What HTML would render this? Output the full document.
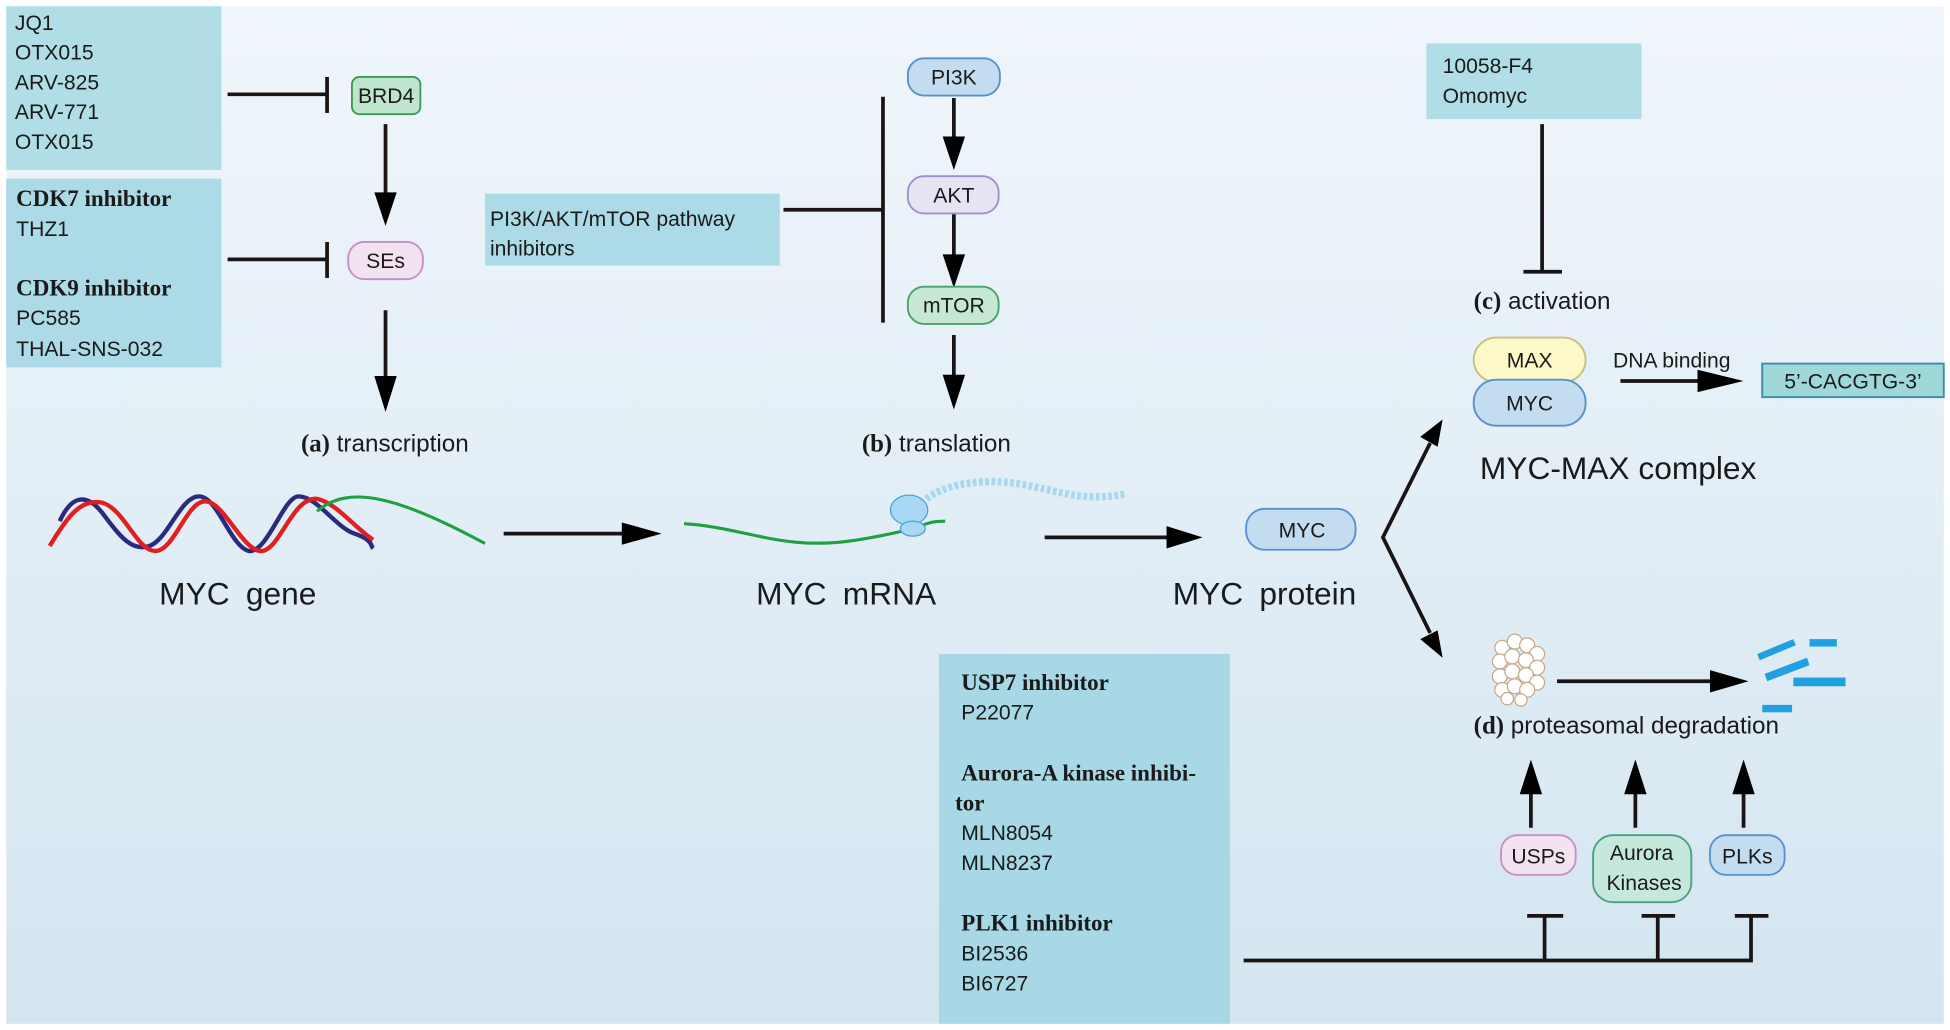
<!DOCTYPE html>
<html><head><meta charset="utf-8"><style>
html,body{margin:0;padding:0;background:#fff;}
svg{display:block}
text{font-family:"Liberation Sans Narrow","Liberation Sans",sans-serif;fill:#1a1a1a}
.s{font-family:"Liberation Serif",serif;font-weight:bold;font-size:18.5px}
</style></head><body>
<svg width="1950" height="1030" viewBox="0 0 1568 830" preserveAspectRatio="none" xmlns="http://www.w3.org/2000/svg">
<defs>
<linearGradient id="bg" x1="0" y1="0" x2="0" y2="1">
<stop offset="0" stop-color="#f0f6fb"/><stop offset="1" stop-color="#d4e5f0"/></linearGradient>
</defs>
<rect x="0" y="0" width="1568" height="830" fill="#fff"/>
<rect x="5" y="5" width="1558" height="820" fill="url(#bg)"/>
<g stroke="#1a1414" stroke-width="3" fill="none">
<line x1="183" y1="76" x2="263" y2="76"/><line x1="263" y1="62" x2="263" y2="91"/>
<line x1="183" y1="209" x2="263" y2="209"/><line x1="263" y1="195" x2="263" y2="224"/>
<line x1="310" y1="100" x2="310" y2="160"/><line x1="310" y1="250" x2="310" y2="310"/>
<line x1="630" y1="169" x2="710" y2="169"/><line x1="710" y1="78" x2="710" y2="260"/>
<line x1="767" y1="79" x2="767" y2="115"/><line x1="767" y1="172" x2="767" y2="210"/><line x1="767" y1="270" x2="767" y2="308"/>
<line x1="405" y1="430" x2="505" y2="430"/><line x1="840" y1="433" x2="945" y2="433"/>
<line x1="1240" y1="100" x2="1240" y2="218"/><line x1="1225" y1="219" x2="1256" y2="219"/>
<line x1="1303" y1="307" x2="1375" y2="307"/>
<polyline points="1150,357 1112,433 1150,510"/>
<line x1="1252" y1="549" x2="1380" y2="549"/>
<line x1="1231" y1="667" x2="1231" y2="635"/><line x1="1315" y1="667" x2="1315" y2="635"/><line x1="1402" y1="667" x2="1402" y2="635"/>
<polyline points="1000,774 1408,774 1408,738"/><line x1="1242" y1="774" x2="1242" y2="738"/><line x1="1333" y1="774" x2="1333" y2="738"/>
<line x1="1228" y1="738" x2="1257" y2="738"/><line x1="1320" y1="738" x2="1347" y2="738"/><line x1="1395" y1="738" x2="1422" y2="738"/>
</g>
<g fill="#000">
<polygon points="301,155 319,155 310,182"/><polygon points="301,303 319,303 310,332"/>
<polygon points="758,110 776,110 767,137"/><polygon points="758,205 776,205 767,232"/><polygon points="758,302 776,302 767,330"/>
<polygon points="500,421 500,439 532,430"/><polygon points="938,424 938,442 967,433"/>
<polygon points="1365,298 1365,316 1402,307"/><polygon points="1375,540 1375,558 1406,549"/>
<polygon points="1222,640 1240,640 1231,612"/><polygon points="1306,640 1324,640 1315,612"/><polygon points="1393,640 1411,640 1402,612"/>
<polygon points="1142,352 1156,360 1160,338"/><polygon points="1142,515 1156,508 1160,530"/>
</g>
<rect x="5" y="5" width="173" height="132" fill="#b1dde7"/>
<rect x="5" y="144" width="173" height="152" fill="#acdae6"/>
<rect x="390" y="156" width="237" height="58" fill="#acdae6"/>
<rect x="1147" y="35" width="173" height="61" fill="#b1dde7"/>
<rect x="755" y="527" width="234" height="298" fill="#a8d8e6"/>
<g font-size="17">
<text x="12" y="24">JQ1</text><text x="12" y="48">OTX015</text><text x="12" y="72">ARV-825</text><text x="12" y="96">ARV-771</text><text x="12" y="120">OTX015</text>
<text x="13" y="166" class="s">CDK7 inhibitor</text><text x="13" y="190">THZ1</text>
<text x="13" y="238" class="s">CDK9 inhibitor</text><text x="13" y="262">PC585</text><text x="13" y="287">THAL-SNS-032</text>
<text x="394" y="182">PI3K/AKT/mTOR pathway</text><text x="394" y="206">inhibitors</text>
<text x="1160" y="59">10058-F4</text><text x="1160" y="83">Omomyc</text>
<text x="773" y="556" class="s">USP7 inhibitor</text><text x="773" y="580">P22077</text>
<text x="773" y="629" class="s">Aurora-A kinase inhibi-</text><text x="768" y="653" class="s">tor</text>
<text x="773" y="677">MLN8054</text><text x="773" y="701">MLN8237</text>
<text x="773" y="750" class="s">PLK1 inhibitor</text><text x="773" y="774">BI2536</text><text x="773" y="798">BI6727</text>
</g>
<rect x="283" y="62" width="55" height="30" rx="6" fill="#bfe5cc" stroke="#3a9a5a" stroke-width="1.5"/><text x="310.5" y="83" font-size="17" text-anchor="middle">BRD4</text>
<rect x="280" y="195" width="60" height="30" rx="13" fill="#f3e3f1" stroke="#c590c8" stroke-width="1.5"/><text x="310" y="216" font-size="17" text-anchor="middle">SEs</text>
<rect x="730" y="47" width="74" height="30" rx="13" fill="#c4dcf0" stroke="#5a8fd0" stroke-width="1.5"/><text x="767" y="68" font-size="17" text-anchor="middle">PI3K</text>
<rect x="730" y="142" width="73" height="30" rx="13" fill="#e6e3f3" stroke="#9a92cc" stroke-width="1.5"/><text x="767" y="163" font-size="17" text-anchor="middle">AKT</text>
<rect x="730" y="231" width="73" height="30" rx="13" fill="#c6e8d2" stroke="#4aa070" stroke-width="1.5"/><text x="767" y="252" font-size="17" text-anchor="middle">mTOR</text>
<rect x="1002" y="410" width="88" height="33" rx="15" fill="#c4dcf0" stroke="#5a8fd0" stroke-width="1.5"/><text x="1047" y="433" font-size="17" text-anchor="middle">MYC</text>
<rect x="1185" y="272" width="90" height="36" rx="18" fill="#fdf8c8" stroke="#c8c080" stroke-width="1.5"/><text x="1230" y="296" font-size="17" text-anchor="middle">MAX</text>
<rect x="1185" y="306" width="90" height="37" rx="18" fill="#c4dcf0" stroke="#5a8fd0" stroke-width="1.5"/><text x="1230" y="331" font-size="17" text-anchor="middle">MYC</text>
<rect x="1417" y="293" width="146" height="27" fill="#9fd8d8" stroke="#3a8ab0" stroke-width="1.5"/><text x="1490" y="313" font-size="17" text-anchor="middle">5’-CACGTG-3’</text>
<rect x="1207" y="673" width="60" height="32" rx="13" fill="#f3e3f1" stroke="#c590c8" stroke-width="1.5"/><text x="1237" y="696" font-size="17" text-anchor="middle">USPs</text>
<rect x="1281" y="673" width="79" height="54" rx="16" fill="#c6e8dc" stroke="#4aa080" stroke-width="1.5"/><text x="1320" y="693" font-size="17" text-anchor="middle">Aurora</text><text x="1322" y="717" font-size="17" text-anchor="middle">Kinases</text>
<rect x="1375" y="673" width="60" height="32" rx="13" fill="#c4dcf0" stroke="#5a8fd0" stroke-width="1.5"/><text x="1405" y="696" font-size="17" text-anchor="middle">PLKs</text>
<g font-size="19.5">
<text x="242" y="364"><tspan class="s" style="font-size:20px">(a)</tspan> transcription</text>
<text x="693" y="364"><tspan class="s" style="font-size:20px">(b)</tspan> translation</text>
<text x="1185" y="249"><tspan class="s" style="font-size:20px">(c)</tspan> activation</text>
<text x="1185" y="591"><tspan class="s" style="font-size:20px">(d)</tspan> proteasomal degradation</text>
<text x="1297" y="296" font-size="17">DNA binding</text>
</g>
<g font-size="25.5"><text x="128" y="487" word-spacing="6">MYC gene</text><text x="608" y="487" word-spacing="6">MYC mRNA</text><text x="943" y="487" word-spacing="6">MYC protein</text><text x="1190" y="386">MYC-MAX complex</text></g>
<g fill="none">
<path d="M48,420 C58,398 70,398 82,413 C95,430 105,445 120,440 C135,435 145,400 160,400 C175,400 185,440 200,444 C215,446 228,400 240,400 C255,400 270,425 285,430 S298,440 300,442" stroke="#2a2a80" stroke-width="3.5"/>
<path d="M40,440 C55,415 65,402 82,405 C100,410 110,444 125,444 C140,444 150,404 165,404 C180,404 195,444 210,444 C225,444 235,400 255,402 C270,405 285,425 300,435" stroke="#e02020" stroke-width="3.5"/>
<path d="M255,412 C280,390 320,400 390,438" stroke="#20a040" stroke-width="2.5"/>
<path d="M550,422 C600,425 630,445 690,435 S740,420 760,420" stroke="#20a040" stroke-width="2.5"/>
<path d="M745,402 C760,390 790,385 820,390 S870,405 905,398" stroke-dasharray="3,2" stroke-width="6" stroke="#a8d8f0"/>
</g>
<ellipse cx="731" cy="411" rx="15" ry="12" fill="#a8d8f4" stroke="#4aa0d8"/>
<ellipse cx="734" cy="426" rx="10" ry="6" fill="#a8d8f4" stroke="#4aa0d8"/>
<g fill="#fff" stroke="#c8a888" stroke-width="1">
<circle cx="1208" cy="522" r="6"/><circle cx="1218" cy="517" r="6"/><circle cx="1228" cy="520" r="6"/><circle cx="1236" cy="527" r="6"/>
<circle cx="1206" cy="533" r="6"/><circle cx="1216" cy="529" r="6"/><circle cx="1227" cy="532" r="6"/><circle cx="1236" cy="538" r="6"/>
<circle cx="1206" cy="545" r="6"/><circle cx="1216" cy="541" r="6"/><circle cx="1227" cy="544" r="6"/><circle cx="1236" cy="550" r="6"/>
<circle cx="1208" cy="556" r="6"/><circle cx="1218" cy="553" r="6"/><circle cx="1228" cy="556" r="6"/>
<circle cx="1212" cy="563" r="5"/><circle cx="1223" cy="564" r="5"/>
</g>
<g fill="#20a0e0">
<polygon points="1413,527 1442,515 1444,520 1415,532"/><rect x="1455" y="515" width="22" height="6"/>
<polygon points="1419,543 1453,530 1455,536 1421,549"/><rect x="1442" y="546" width="42" height="7"/><rect x="1417" y="568" width="24" height="6"/>
</g>
</svg>
</body></html>
